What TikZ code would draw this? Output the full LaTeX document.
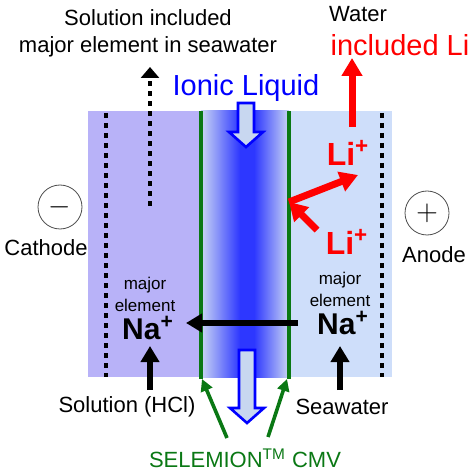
\documentclass[tikz,border=0pt]{standalone}
\usepackage{fontspec}
\setmainfont{Liberation Sans}
\usetikzlibrary{arrows.meta}

\definecolor{leftcell}{RGB}{184,178,248}
\definecolor{rightcell}{RGB}{206,222,250}
\definecolor{ilight}{RGB}{202,214,244}
\definecolor{ideep}{RGB}{45,55,255}
\definecolor{memgreen}{RGB}{10,120,20}
\definecolor{holfill}{RGB}{200,215,240}

\begin{document}
\begin{tikzpicture}[x=0.5pt,y=-0.5pt,
    dots/.style={line width=2.3pt, dash pattern=on 2.3pt off 2.7pt},
    naarrow/.style={line width=3pt, -{Triangle[length=8pt,width=9pt]}},
    liarrow/.style={red, line width=3.5pt, -{Triangle[length=9pt,width=10pt]}},
    memarrow/.style={memgreen, line width=1.8pt, -{Triangle[length=6pt,width=6pt]}},
    hollow/.style={draw=blue, line width=1.3pt, fill=holfill},
    small/.style={font=\fontsize{8.5}{9}\selectfont, inner sep=0pt},
    label/.style={font=\fontsize{11}{13.5}\selectfont, align=center},
    big/.style={font=\fontsize{14.5}{16}\selectfont},
    ion/.style={font=\fontsize{15}{16}\selectfont\bfseries, inner sep=1pt},
    sign/.style={circle, draw=black!70, thin, minimum size=22pt, inner sep=0pt}]
    \useasboundingbox (0,0) rectangle (474,469);

    % Cells
    \fill[leftcell] (88,111) rectangle (201,377);
    \fill[rightcell] (289,111) rectangle (392,377);
    \shade[left color=ilight, right color=ideep] (201,111) rectangle (240,377);
    \fill[ideep] (240,111) rectangle (254,377);
    \shade[left color=ideep, right color=ilight] (254,111) rectangle (289,377);

    % Electrodes
    \draw[dots] (106,113) -- (106,377);
    \draw[dots] (382,113) -- (382,377);

    % Membranes
    \draw[memgreen, line width=2pt] (201,111) -- (201,379);
    \draw[memgreen, line width=2pt] (289,111) -- (289,379);

    % Ionic liquid flow
    \draw[hollow] (238,103) -- (254,103) -- (254,132) -- (263,132) -- (246,147) -- (229,132) -- (238,132) -- cycle;
    \draw[hollow] (239,350) -- (255,350) -- (255,408) -- (264,408) -- (247,423) -- (230,408) -- (239,408) -- cycle;

    % Labels
    \node[label] (outNa) at (148,33) {Solution included\\major element in seawater};
    \node[label] (water) at (358,14) {Water};
    \node[big, red] (outLi) at (400,45) {included Li};
    \node[big, blue] (ionic) at (246,88) {Ionic Liquid};
    \node[sign] (minus) at (60,207) {\fontsize{14}{14}\selectfont$-$};
    \node[label] (cathode) at (46,248) {Cathode};
    \node[sign] (plus) at (427,213) {\fontsize{14}{14}\selectfont$+$};
    \node[label] (anode) at (434,255) {Anode};

    \node[ion, red, font=\fontsize{16}{17}\selectfont\bfseries] (liUp) at (348,153) {Li\textsuperscript{+}};
    \node[ion, red, font=\fontsize{16}{17}\selectfont\bfseries] (liLow) at (347,242) {Li\textsuperscript{+}};

    \node[small] (majorL) at (145,285) {major};
    \node[small] (elemL) at (145,305) {element};
    \node[ion] (naL) at (148,328) {Na\textsuperscript{+}};
    \node[small] (majorR) at (340,280) {major};
    \node[small] (elemR) at (340,300) {element};
    \node[ion] (naR) at (343,323) {Na\textsuperscript{+}};

    \node[label] (hcl) at (127,407) {Solution (HCl)};
    \node[label] (sea) at (342,407) {Seawater};
    \node[label, memgreen] (cmv) at (245,458) {SELEMION\textsuperscript{TM} CMV};

    % Connectors
    \coordinate (dotTail) at (150,206);
    \coordinate (dotTip) at (150,67);
    \draw[dots, -{Triangle[length=5.5pt,width=9pt]}] (dotTail) -- (dotTip);

    \coordinate (liTail) at (352,127);
    \coordinate (liTip) at (352,58);
    \draw[liarrow] (liTail) -- (liTip);
    \coordinate (memHit) at (289,202);
    \coordinate (liOut) at (358,175);
    \coordinate (liIn) at (317,230);
    \draw[liarrow] (liIn) -- (memHit);
    \draw[liarrow] (memHit) -- (liOut);

    \coordinate (naFrom) at (298,323);
    \coordinate (naTo) at (186,323);
    \draw[naarrow] (naFrom) -- (naTo);
    \coordinate (hclTop) at (150,390);
    \coordinate (naLbot) at (150,346);
    \draw[naarrow] (hclTop) -- (naLbot);
    \coordinate (seaTop) at (340,390);
    \coordinate (naRbot) at (340,346);
    \draw[naarrow] (seaTop) -- (naRbot);

    \coordinate (cmvL) at (227,438);
    \coordinate (memL) at (202,379);
    \coordinate (cmvR) at (268,437);
    \coordinate (memR) at (287,379);
    \draw[memarrow] (cmvL) -- (memL);
    \draw[memarrow] (cmvR) -- (memR);
\end{tikzpicture}
\end{document}
